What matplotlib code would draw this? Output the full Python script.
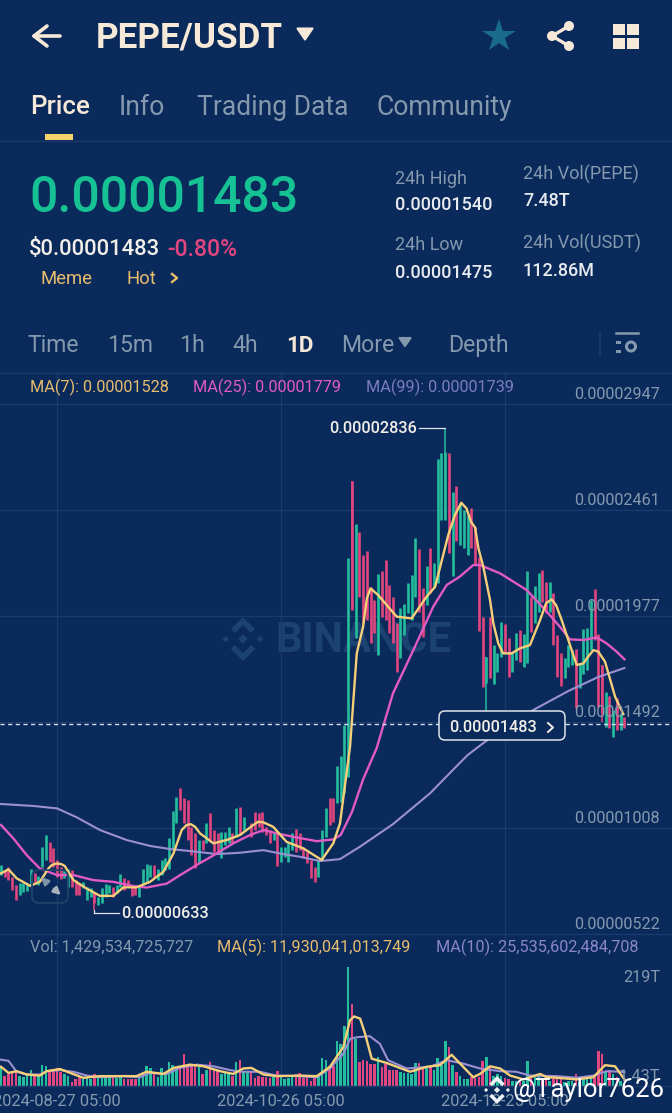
import numpy as np
from matplotlib import pyplot as plt
from matplotlib.patches import FancyBboxPatch, Polygon, Circle, Rectangle

W, H = 672, 1113

# prices in units of 1e-8 USDT, one candle per day, day 0 = 2024-08-27
first_day = -15
opens = np.array([
    792, 815, 830, 784, 746, 700, 716, 720, 746, 800, 745, 830, 861, 944, 914, 861, 830, 780, 739, 815,
    769, 754, 731, 678, 690, 708, 655, 662, 693, 708, 739, 708, 739, 777, 769, 739, 746, 690, 746, 754,
    784, 838, 769, 792, 815, 822, 906, 1028, 1188, 1143, 1135, 1013, 983, 845, 952, 937, 1074, 998, 983,
    872, 929, 937, 983, 967, 1105, 998, 1044, 1028, 1082, 1074, 1082, 1013, 998, 952, 983, 853, 876, 853,
    906, 1001, 983, 922, 899, 861, 830, 784, 861, 967, 1143, 1143, 1121, 1126, 1167, 1240,
    2596, 1875, 2363, 2256, 2276, 2111, 2050, 1798, 2184, 2233, 2119, 2065, 1943, 1783, 1890, 1989, 1959,
    2065, 2282, 2103, 2027, 2286, 2103, 2126, 2416, 2416, 2724, 2160, 2572, 2302, 2286, 2256, 2469, 2385,
    2248, 1971, 1669, 1974, 1666, 1722, 1791, 1940, 1875, 1722, 1775, 1913, 1745, 1763, 2065, 1943, 1997,
    2187, 2134, 1997, 2080, 1890, 1806, 1692, 1745, 1753, 1824, 1646, 1711, 1730, 1821, 2099, 1894, 1753,
    1471, 1611, 1425, 1600, 1455, 1516])
closes = np.array([
    838, 784, 769, 723, 678, 754, 754, 750, 822, 760, 790, 922, 975, 853, 830, 784, 775, 815, 822, 739,
    700, 700, 761, 739, 735, 663, 693, 731, 750, 746, 690, 746, 795, 723, 739, 696, 700, 739, 822, 842,
    838, 777, 822, 861, 868, 960, 1086, 1150, 1089, 1028, 952, 883, 823, 952, 906, 1028, 944, 899, 891,
    990, 990, 1013, 937, 1101, 975, 1059, 1044, 967, 998, 1013, 990, 975, 937, 983, 833, 922, 922, 937,
    983, 899, 906, 868, 845, 777, 761, 861, 998, 1097, 1021, 1036, 1291, 1336, 1478, 2241,
    2004, 2398, 2065, 1943, 1959, 1852, 1897, 2169, 1974, 1959, 1897, 1852, 1722, 2012, 2032, 2129, 2164,
    2332, 1997, 1882, 2207, 2080, 2218, 2694, 2721, 2729, 2263, 2546, 2321, 2492, 2462, 2439, 2286, 2210,
    1910, 1650, 1791, 1692, 1844, 1806, 1951, 1806, 1699, 1814, 1901, 1768, 1894, 2184, 1905, 2114, 2172,
    2042, 1989, 2134, 1844, 1699, 1658, 1786, 1844, 1821, 1554, 1760, 1917, 1920, 2050, 1867, 1562, 1532,
    1631, 1463, 1547, 1455, 1532, 1463])

# the few wicks that stick out of the bars
wick_days = [10, 104, 115, 79, 146]
wick_highs = [708, 2836, 1791, 2596, 1753]
wick_lows = [633, 2416, 1480, 2004, 1490]

ma7_days = [-15, -13, -10.8, -7.2, -4.6, -2.3, -1.4, -0.1, 1.2, 2.1, 4.4, 7.9, 11.5, 15.1, 17.8, 21.3, 24.9, 28.5,
            31.2, 33.4, 34.7, 35.8, 37, 38.3, 41.9, 45.4, 49, 52.6, 53.9, 55.3, 57.9, 61.5, 66, 70.9, 74, 75.8,
            78.5, 80.3, 82, 83, 84, 86, 91, 95, 99, 101.3, 104.8, 106.6, 108.3, 109.7, 110.9, 112, 112.9, 114.2,
            116, 116.9, 118.2, 119.5, 121.8, 124, 126.7, 129.4, 131, 132.5, 133.7, 135.2, 139.2, 141, 142.3,
            143.7, 145, 146.8, 149.5, 151.7]
ma7 = [800, 818, 777, 743, 761, 822, 838, 845, 842, 833, 769, 731, 697, 697, 736, 736, 761, 807,
       891, 998, 1021, 1025, 1013, 983, 937, 952, 975, 1021, 1036, 1033, 1013, 944, 914, 861, 937, 1028,
       1379, 1806, 1928, 2057, 2103, 2073, 1974, 1966, 2065, 2111, 2347, 2439, 2495, 2469, 2408, 2382, 2286, 2202,
       2050, 1943, 1852, 1806, 1806, 1829, 1844, 1958, 2035, 2053, 2027, 1958, 1753, 1760, 1791,
       1821, 1814, 1768, 1608, 1528]
ma25_days = [-15, -11.7, -8.1, -4.6, 0, 4.4, 9.7, 15.1, 20.4, 24, 29.4, 33, 37.4, 42, 47.2, 51.7, 55.3, 58.8, 63.3,
             69.6, 74, 76, 79, 82, 85.6, 90, 96.3, 100.8, 104.4, 107.9, 111.5, 113.3, 118.7, 125.8, 131.2, 134.7,
             137.4, 141, 144.6, 147.2, 149.9, 152]
ma25 = [1021, 960, 883, 822, 792, 792, 769, 761, 742, 735, 753, 792, 838, 883, 937, 975, 998, 983, 967,
        947, 955, 975, 1080, 1230, 1371, 1623, 1852, 2020, 2119, 2157, 2210, 2210, 2172, 2096, 1997, 1928,
        1870, 1867, 1879, 1852, 1814, 1779]
ma99_days = [-15, -6.3, 0, 5.3, 11.5, 18.7, 25, 30.3, 35.6, 42.8, 49, 55.3, 60.6, 65, 70.4, 75.8, 81, 90, 100, 106,
             110, 116, 120, 128, 137, 145, 152]
ma99 = [1117, 1108, 1097, 1056, 998, 952, 925, 911, 902, 888, 894, 906, 888, 876, 856, 865, 920, 1025, 1167, 1272,
        1341, 1419, 1469, 1551, 1634, 1698, 1739]

# volume in T
volumes = [
    35, 19, 22, 24, 26, 19, 16, 22, 30, 19, 19, 38, 36, 26, 27, 32, 26, 22, 19, 7,
    13, 16, 13, 15, 13, 22, 15, 16, 16, 19, 18, 15, 16, 12, 12, 13, 13, 19, 24, 36,
    32, 22, 16, 32, 22, 43, 38, 35, 36, 58, 36, 38, 41, 35, 21, 30, 44, 30, 27, 22,
    24, 22, 19, 43, 47, 27, 26, 26, 15, 19, 16, 16, 15, 16, 27, 19, 12, 15, 19, 22,
    24, 15, 16, 10, 16, 19, 52, 48, 36, 36, 83, 77, 109, 218,
    150, 86, 44, 48, 46, 41, 41, 53, 35, 40, 29, 30, 30, 26, 24, 24, 21, 42, 42, 32, 35, 36, 29, 51, 38, 82,
    72, 38, 26, 18, 12, 13, 16, 15, 16, 45, 53, 35, 19, 22, 19, 15, 13, 10, 10, 10, 10, 46, 15, 16, 18, 13,
    12, 9, 13, 13, 12, 7, 10, 9, 22, 7, 16, 12, 19, 16, 63, 59, 27, 30, 21, 16, 10, 1.43]

vol_ma5_days = [-15, -13, -10.8, -8.1, -4.6, -2.8, 0.8, 3.5, 7, 11.5, 17.8, 21.3, 24, 28.5, 31.2, 35.6, 39.2, 43.7,
                47.2, 49.9, 52.1, 55.3, 58.8, 65, 69.6, 73.1, 76.7, 78.5, 79.6, 81.2, 82.5, 84.3, 88.3, 94.6, 99,
                102.6, 105.7, 108.4, 111.5, 113.3, 116, 118.7, 121.4, 125, 129.4, 131.2, 133.9, 139.2, 143.7, 146.8,
                149.5, 152]
vol_ma5 = [35, 24, 27, 21, 19, 27, 31, 24, 15, 18, 18, 18, 26, 22, 33, 39, 36, 27,
           22, 32, 33, 21, 18, 19, 18, 35, 71, 120, 127, 123, 96, 50, 42, 26, 35,
           38, 57, 38, 16, 22, 36, 32, 19, 12, 22, 16, 15, 12, 16, 38,
           36, 11.93]
vol_ma10_days = [-15, -13, -10.8, -8.1, -4.6, -2.8, 0.8, 4.4, 8, 11.5, 17.8, 22.2, 24.9, 29.4, 32.9, 37.4, 41.9, 46.4,
                 49, 54.4, 58.8, 64.2, 69.6, 73.1, 76.7, 78.5, 80.3, 83.8, 86.5, 88.7, 93.7, 99.9, 104.4, 108.8, 113.3,
                 118.7, 123, 126.7, 133.9, 139.2, 143.7, 147.2, 150.8, 152]
vol_ma10 = [48, 46, 26, 21, 21, 27, 29, 26, 19, 16, 18, 16, 24, 22, 33, 39, 36, 29,
            26, 26, 19, 18, 16, 32, 59, 86, 89, 91, 77, 47, 32, 35, 47, 41, 32,
            27, 26, 19, 18, 15, 19, 27, 26, 25.5]

price_ticks = [2947, 2461, 1977, 1492, 1008, 522]
price_labels = ["0.00002947", "0.00002461", "0.00001977", "0.00001492", "0.00001008", "0.00000522"]
date_ticks = [0, 60, 120]
date_labels = ["2024-08-27 05:00", "2024-10-26 05:00", "2024-12-25 05:00"]
last_price = 1483
high_price = 2836
low_price = 633

# colours
bg = "#0a2a5c"
grid_c = "#1a3c6c"
green = "#25bd9c"
pink = "#e2467f"
ma_yellow = "#f6cf78"
ma_pink = "#e25bc2"
ma_purple = "#9c90d2"
cream = "#f6e9d8"
grey = "#8499ad"
font = "Roboto"

plt.rcParams["font.family"] = [font, "DejaVu Sans"]

fig = plt.figure(figsize=(W / 100, H / 100), dpi=100, facecolor=bg)

# watermark sits under the candles
back = fig.add_axes([0, 0, 1, 1], facecolor="none", zorder=-1)
back.set_xlim(0, W)
back.set_ylim(H, 0)
back.axis("off")

def panel(top, bottom):
    a = fig.add_axes([0, 1 - bottom / H, 1, (bottom - top) / H], facecolor="none")
    for s in a.spines.values():
        s.set_visible(False)
    return a

ax = panel(372, 940)
vax = panel(940, 1086)

days = first_day + np.arange(len(opens))
up = closes >= opens
colors = np.where(up, green, pink)

# x: 3.733 px per day, day 0 at x = 57
x_lim = (-57 / 3.733, (W - 57) / 3.733)

# candles
ax.vlines(days, np.minimum(opens, closes) * 1e-8, np.maximum(opens, closes) * 1e-8, colors=colors, lw=1.9, zorder=2)
for d, hi, lo in zip(wick_days, wick_highs, wick_lows):
    ax.vlines(d, lo * 1e-8, hi * 1e-8, colors=green if up[d - first_day] else pink, lw=1.1, zorder=2)

ax.plot(ma99_days, np.array(ma99) * 1e-8, color=ma_purple, lw=1.5, zorder=3, solid_joinstyle="round")
ax.plot(ma25_days, np.array(ma25) * 1e-8, color=ma_pink, lw=1.7, zorder=3, solid_joinstyle="round")
ax.plot(ma7_days, np.array(ma7) * 1e-8, color=ma_yellow, lw=1.7, zorder=4, solid_joinstyle="round")

ax.set_xlim(*x_lim)
ax.set_ylim(495e-8, 3093e-8)
ax.set_xticks(date_ticks)
ax.set_yticks(np.array(price_ticks) * 1e-8)
ax.tick_params(length=0, labelbottom=False, labelleft=False)
ax.grid(color=grid_c, lw=0.9, zorder=0)
ax.set_axisbelow(True)

for p, s in zip(price_ticks, price_labels):
    ax.annotate(s, (1, p * 1e-8), xycoords=ax.get_yaxis_transform(), xytext=(-12, 2), textcoords="offset pixels",
                ha="right", va="bottom", fontsize=11.7, color=grey, zorder=6)

# last price
ax.axhline(last_price * 1e-8, color="#d5dde6", lw=1.0, ls=(0, (3, 2.5)), zorder=5)

# high and low labels
hi_x = wick_days[1]
ax.plot([hi_x - 7, hi_x], [high_price * 1e-8] * 2, color="#dfe5ea", lw=0.9, zorder=5)
ax.annotate("0.00002836", (hi_x - 7.6, high_price * 1e-8), ha="right", va="center", fontsize=11.7,
            color="#f2efe8", fontweight="medium", zorder=6)
lo_x = wick_days[0]
ax.plot([lo_x, lo_x + 6.5], [low_price * 1e-8 - 15e-8] * 2, color="#dfe5ea", lw=0.9, zorder=5)
ax.plot([lo_x, lo_x], [low_price * 1e-8, low_price * 1e-8 - 15e-8], color="#dfe5ea", lw=0.9, zorder=5)
ax.annotate("0.00000633", (lo_x + 7.3, low_price * 1e-8 - 15e-8), ha="left", va="center", fontsize=11.7,
            color="#f2efe8", fontweight="medium", zorder=6)

# volume
vax.bar(days, volumes, width=0.68, color=colors, zorder=2)
vax.plot(vol_ma10_days, vol_ma10, color=ma_purple, lw=1.5, zorder=3, solid_joinstyle="round")
vax.plot(vol_ma5_days, vol_ma5, color=ma_yellow, lw=1.7, zorder=4, solid_joinstyle="round")
vax.set_xlim(*x_lim)
vax.set_ylim(0, 266.5)
vax.set_yticks([])
vax.set_xticks(date_ticks, date_labels)
vax.tick_params(axis="x", length=0, pad=6, labelsize=11.9, labelcolor=grey)
vax.grid(axis="x", color=grid_c, lw=0.9, zorder=0)
vax.set_axisbelow(True)
vax.axhline(0, color=grid_c, lw=1.0, clip_on=False)

# everything around the chart, in pixel coordinates
ui = fig.add_axes([0, 0, 1, 1], facecolor="none", zorder=10)
ui.set_xlim(0, W)
ui.set_ylim(H, 0)
ui.axis("off")

def label(x, y, s, color=grey, px=15, weight="normal", ha="left", family=None, z=5):
    ui.text(x, y + 1.5, s, color=color, fontsize=px * 0.72, fontweight=weight, ha=ha, va="center",
            family=family or [font, "DejaVu Sans"], zorder=z)

def logo(a, cx, cy, r, color, z=1):
    # binance mark: centre, side dots and two chevrons
    def poly(pts):
        a.add_patch(Polygon([(cx + r * p, cy + r * q) for p, q in pts], color=color, lw=0, zorder=z))
    poly([(0, -0.22), (0.22, 0), (0, 0.22), (-0.22, 0)])
    poly([(-0.78, -0.15), (-0.63, 0), (-0.78, 0.15), (-0.93, 0)])
    poly([(0.78, -0.15), (0.93, 0), (0.78, 0.15), (0.63, 0)])
    poly([(0, -1), (0.55, -0.45), (0.37, -0.27), (0, -0.64), (-0.37, -0.27), (-0.55, -0.45)])
    poly([(0, 1), (0.55, 0.45), (0.37, 0.27), (0, 0.64), (-0.37, 0.27), (-0.55, 0.45)])

def tri(cx, cy, w, h, color):
    ui.add_patch(Polygon([(cx - w / 2, cy - h / 2), (cx + w / 2, cy - h / 2), (cx, cy + h / 2)], fc=color, ec=color,
                         lw=1.5, joinstyle="round"))

# header
ui.plot([47, 34, 47], [26, 36, 46], color=cream, lw=2.6, solid_joinstyle="round", solid_capstyle="round")
ui.plot([34, 60], [36, 36], color=cream, lw=2.6, solid_capstyle="round")
label(96, 36, "PEPE/USDT", cream, 35, "bold")
tri(305, 34, 15, 11, cream)
ui.plot([499], [36], marker="*", ms=25, color="#1a6a8c", mew=0)
for cx, cy in [(552, 36), (569, 26), (569, 46)]:
    ui.add_patch(Circle((cx, cy), 5, color=cream, lw=0))
ui.plot([569, 552, 569], [26, 36, 46], color=cream, lw=2.4)
for sx, sy in [(613, 24), (627, 24), (613, 38), (627, 38)]:
    ui.add_patch(Rectangle((sx, sy), 11.5, 11, color=cream, lw=0))

# tabs
label(30, 106, "Price", cream, 26, "medium")
label(119, 106, "Info", grey, 26.5)
label(197, 106, "Trading Data", grey, 26.5)
label(376, 106, "Community", grey, 26.5)
ui.add_patch(Rectangle((45, 134), 28, 6, color="#f5d36a", lw=0))
ui.plot([0, W], [140.5, 140.5], color=grid_c, lw=0.9)

# price block
label(29, 197, "0.00001483", "#16c294", 50, "medium")
label(29, 248, "$0.00001483", "#f2efe8", 22, "medium")
label(167, 248, "-0.80%", "#e2467f", 23, "medium")
label(40, 277, "Meme", "#e8bd6c", 18.5)
label(126, 277, "Hot", "#e8bd6c", 18.5)
ui.plot([172, 177, 172], [274, 278, 282], color="#e8bd6c", lw=1.7)

label(395, 177, "24h High", grey, 18)
label(395, 203, "0.00001540", "#e9ecef", 18, "medium")
label(395, 244, "24h Low", grey, 18)
label(395, 271, "0.00001475", "#e9ecef", 18, "medium")
label(523, 173, "24h Vol(PEPE)", grey, 18)
label(523, 200, "7.48T", "#e9ecef", 18, "medium")
label(523, 242, "24h Vol(USDT)", grey, 18)
label(523, 269, "112.86M", "#e9ecef", 18, "medium")

# interval row
label(28, 344, "Time", grey, 23)
label(107, 344, "15m", grey, 23)
label(179, 344, "1h", grey, 23)
label(232, 344, "4h", grey, 23)
label(286, 344, "1D", cream, 22.5, "bold")
label(341, 344, "More", grey, 23)
tri(405, 342, 11, 8, grey)
label(448, 344, "Depth", grey, 23)
ui.plot([600, 600], [333, 355], color=grid_c, lw=1.2)
ui.plot([616, 638], [333, 333], color=grey, lw=1.8)
ui.add_patch(Rectangle((616, 341), 5, 3, color=grey, lw=0))
ui.add_patch(Rectangle((616, 350), 5, 3, color=grey, lw=0))
ui.add_patch(Circle((631, 346.5), 4.5, fc="none", ec=grey, lw=2.2))
ui.plot([0, W], [372.5, 372.5], color=grid_c, lw=0.9)

# MA legends
label(30, 386, "MA(7): 0.00001528", "#e8bd6c", 16.3)
label(193, 386, "MA(25): 0.00001779", ma_pink, 16.3)
label(366, 386, "MA(99): 0.00001739", "#7d7cc0", 16.3)
label(30, 946, "Vol: 1,429,534,725,727", grey, 16.3)
label(217, 946, "MA(5): 11,930,041,013,749", "#e8bd6c", 16.3)
label(436, 946, "MA(10): 25,535,602,484,708", "#8a86c8", 16.3)
label(660, 976, "219T", grey, 16.3, ha="right")
label(660, 1075, "1.43T", grey, 16.3, ha="right")

# watermark
logo(back, 243, 639, 22, "#1b4270")
back.text(275, 640, "BINANCE", color="#1b4270", fontsize=30, fontweight="bold", va="center")

# zoom button
ui.add_patch(FancyBboxPatch((32, 870), 36, 33, boxstyle="round,pad=0,rounding_size=7", fc="none", ec="#1f4468", lw=1.3))
ui.annotate("", (39, 875), (48, 884), arrowprops=dict(arrowstyle="-|>", color="#7f95a8", lw=2, mutation_scale=10))
ui.annotate("", (63, 897), (52, 887), arrowprops=dict(arrowstyle="-|>", color="#a6b3bf", lw=2, mutation_scale=10))

# last price box
ui.add_patch(FancyBboxPatch((439, 711), 126, 29, boxstyle="round,pad=0,rounding_size=6", fc=bg, ec="#dfe5ea", lw=1.1,
                            zorder=6))
ui.text(449, 728, "0.00001483", color="#f2efe8", fontsize=11.7, fontweight="medium", va="center", zorder=7)
ui.plot([548, 553, 548], [723, 727.5, 732], color="#f2efe8", lw=1.4, zorder=7)

# corner mark
logo(ui, 497, 1090, 14, "#eef2f6", z=8)
label(513, 1089, "@Taylor7626", "#ffffff", 25.7, z=8)

fig.savefig("out.png", dpi=100, facecolor=bg)
